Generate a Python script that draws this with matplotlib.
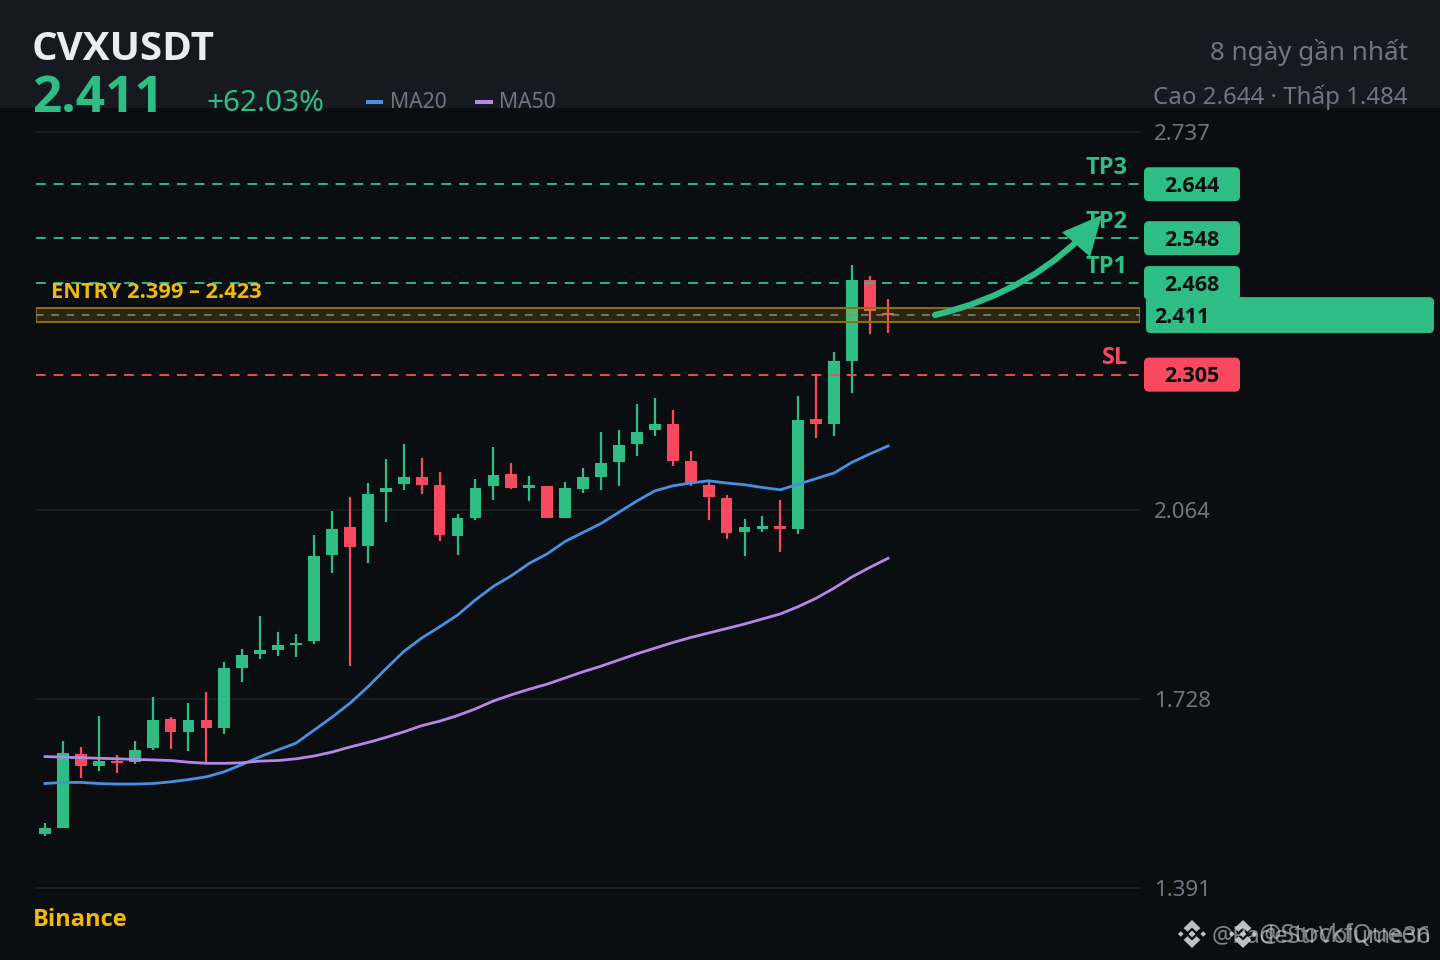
import matplotlib
matplotlib.use("Agg")
import matplotlib.pyplot as plt
from matplotlib.patches import FancyBboxPatch, FancyArrowPatch, Polygon, Rectangle

plt.rcParams['font.family'] = ['Noto Sans', 'DejaVu Sans']
BOLD = dict(family=['Open Sans', 'DejaVu Sans'], fontweight='bold')

# ---------- data ----------
opens = [1.488,1.497,1.630,1.609,1.615,1.615,1.640,1.692,1.668,1.690,1.676,1.783,1.808,1.815,1.824,1.830,
         1.984,2.034,2.000,2.096,2.110,2.122,2.109,2.018,2.049,2.106,2.128,2.104,2.107,2.050,2.101,2.122,
         2.150,2.181,2.207,2.217,2.151,2.109,2.085,2.025,2.031,2.034,2.031,2.226,2.217,2.329,2.474,2.415]
highs = [1.506,1.653,1.642,1.697,1.628,1.653,1.731,1.695,1.720,1.740,1.793,1.817,1.875,1.847,1.843,2.020,
         2.062,2.087,2.112,2.155,2.182,2.156,2.131,2.056,2.119,2.177,2.147,2.125,2.107,2.114,2.139,2.203,
         2.206,2.253,2.263,2.242,2.169,2.114,2.090,2.048,2.053,2.081,2.267,2.305,2.345,2.500,2.481,2.439]
lows  = [1.484,1.497,1.587,1.599,1.595,1.611,1.637,1.639,1.635,1.614,1.665,1.758,1.798,1.804,1.803,1.825,
         1.952,1.787,1.969,2.042,2.100,2.093,2.008,1.984,2.046,2.081,2.102,2.080,2.049,2.050,2.094,2.100,
         2.107,2.160,2.196,2.143,2.106,2.046,2.013,1.982,2.025,1.990,2.022,2.193,2.196,2.272,2.377,2.379]
closes= [1.497,1.631,1.608,1.617,1.613,1.636,1.691,1.668,1.690,1.676,1.782,1.805,1.814,1.824,1.828,1.982,
         2.031,1.999,2.093,2.104,2.122,2.109,2.019,2.049,2.104,2.126,2.103,2.107,2.049,2.103,2.122,2.147,
         2.179,2.203,2.217,2.152,2.112,2.088,2.023,2.033,2.034,2.031,2.225,2.218,2.329,2.474,2.418,2.411]
ma20 = [1.577,1.579,1.579,1.577,1.576,1.576,1.577,1.580,1.584,1.589,1.598,1.611,1.625,1.637,1.649,1.672,
        1.695,1.720,1.749,1.781,1.812,1.836,1.856,1.877,1.904,1.928,1.947,1.969,1.986,2.008,2.024,2.040,
        2.060,2.080,2.098,2.107,2.112,2.116,2.112,2.109,2.104,2.100,2.110,2.120,2.130,2.149,2.164,2.178]
ma50 = [1.625,1.624,1.623,1.622,1.621,1.620,1.619,1.618,1.615,1.613,1.613,1.614,1.617,1.618,1.621,1.626,
        1.633,1.642,1.650,1.659,1.669,1.680,1.688,1.698,1.710,1.724,1.735,1.745,1.754,1.765,1.776,1.786,
        1.797,1.808,1.818,1.828,1.837,1.845,1.853,1.861,1.870,1.879,1.892,1.907,1.925,1.945,1.962,1.978]
y_ticks = [2.737, 2.064, 1.728, 1.391]
tp_labels = ['TP3', 'TP2', 'TP1']
tp_levels = [2.644, 2.548, 2.468]
sl_level = 2.305
entry_low, entry_high = 2.399, 2.423
last_price = 2.411

# ---------- styles ----------
BG, HEADER = '#0b0e11', '#161a20'
GREEN, RED, GOLD = '#2ebd85', '#f84960', '#f0b90b'
BLUE, PURPLE = '#4a90e2', '#b388e8'
GRAY, GRID = '#6f7682', '#191d22'
W, H = 1440, 960
PX_PER_UNIT = (888 - 132) / (2.737 - 1.391)
STEP = (888 - 45) / 47

def ypx(p):
    return 132 + (2.737 - p) * PX_PER_UNIT

fig = plt.figure(figsize=(14.4, 9.6), dpi=100, facecolor=BG)
fig.add_artist(Rectangle((0, 1 - 108 / H), 1, 108 / H, transform=fig.transFigure,
                         facecolor=HEADER, edgecolor='none', zorder=-5))

# price axes occupying x 36..1140 and y 108..900 px
AX_L, AX_R, AX_T, AX_B = 36, 1140, 108, 900
ax = fig.add_axes([AX_L / W, 1 - AX_B / H, (AX_R - AX_L) / W, (AX_B - AX_T) / H])
ax.patch.set_alpha(0)
ax.set_xlim((AX_L - 45) / STEP, (AX_R - 45) / STEP)
ax.set_ylim(2.737 - (AX_B - 132) / PX_PER_UNIT, 2.737 + (132 - AX_T) / PX_PER_UNIT)
for s in ax.spines.values():
    s.set_visible(False)
ax.set_xticks([])
ax.set_yticks(y_ticks)
ax.set_yticklabels([f'{v:.3f}' for v in y_ticks])
ax.yaxis.tick_right()
ax.tick_params(axis='y', length=0, pad=9.8, labelsize=16, labelcolor=GRAY)
ax.grid(axis='y', color=GRID, lw=1.4, zorder=0)
ax.set_axisbelow(True)

# candles
for i, (o, h, l, c) in enumerate(zip(opens, highs, lows, closes)):
    col = GREEN if c >= o else RED
    ax.plot([i, i], [l, h], color=col, lw=1.6, solid_capstyle='butt', zorder=2)
    top, bot = max(o, c), min(o, c)
    ax.bar(i, max(top - bot, 2.2 / PX_PER_UNIT), bottom=bot, width=11.8 / STEP, color=col,
           edgecolor='none', zorder=3)

xs = list(range(len(ma20)))
ax.plot(xs, ma20, color=BLUE, lw=2.0, zorder=4)
ax.plot(xs, ma50, color=PURPLE, lw=2.0, zorder=4)

# levels
for lv in tp_levels:
    ax.axhline(lv, color=GREEN, lw=1.35, dashes=(5.2, 4.2), zorder=5)
ax.axhline(sl_level, color=RED, lw=1.35, dashes=(5.2, 4.2), zorder=5)
ax.axhspan(entry_low, entry_high, facecolor=GOLD, alpha=0.14, edgecolor='none', zorder=5)
ax.axhspan(entry_low, entry_high, facecolor='none', edgecolor='#8f6f10', lw=1.4, zorder=5)
ax.axhline(last_price, color='#8a8a84', lw=1.1, dashes=(5, 5), zorder=5)

# overlay in pixel coordinates for labels
ov = fig.add_axes([0, 0, 1, 1])
ov.set_xlim(0, W); ov.set_ylim(H, 0); ov.axis('off'); ov.patch.set_alpha(0)

def tag(x0, x1, yc, h, col, z=6):
    ov.add_patch(FancyBboxPatch((x0 + 4, yc - h / 2 + 4), x1 - x0 - 8, h - 8,
                                boxstyle='round,pad=4,rounding_size=5', facecolor=col,
                                edgecolor='none', zorder=z))

for lab, lv in zip(tp_labels, tp_levels):
    y = ypx(lv)
    tag(1144, 1240, y, 34, GREEN)
    ov.text(1192, y + 2.2, f'{lv:.3f}', ha='center', va='center', fontsize=15.5, color=BG, zorder=7, **BOLD)
    ov.text(1128, y - 16.5, lab, ha='right', va='center', fontsize=17, color=GREEN, zorder=5, **BOLD)
y = ypx(sl_level)
tag(1144, 1240, y, 34, RED)
ov.text(1192, y + 2.2, f'{sl_level:.3f}', ha='center', va='center', fontsize=15.5, color=BG, zorder=7, **BOLD)
ov.text(1128, y - 16.5, 'SL', ha='right', va='center', fontsize=17, color=RED, zorder=5, **BOLD)
y = ypx(last_price)
tag(1146, 1434, y, 36, GREEN, z=8)
ov.text(1154, y + 2.2, f'{last_price:.3f}', ha='left', va='center', fontsize=15.5, color=BG, zorder=9, **BOLD)

ov.text(51, 293, f'ENTRY {entry_low:.3f} – {entry_high:.3f}', ha='left', va='center', fontsize=15.7,
        color=GOLD, zorder=7, **BOLD)

# arrow
ov.add_patch(FancyArrowPatch((935, 315), (1102, 215), connectionstyle='arc3,rad=0.16',
                             arrowstyle='-|>,head_length=1.05,head_width=0.5', mutation_scale=20,
                             lw=4.4, color=GREEN, shrinkA=0, shrinkB=0, capstyle='round',
                             joinstyle='miter', zorder=10))

# header
ov.text(32, 60, 'CVXUSDT', ha='left', va='baseline', fontsize=29, color='#eaecef', **BOLD)
ov.text(32, 112, f'{last_price:.3f}', ha='left', va='baseline', fontsize=37, color=GREEN, **BOLD)
ov.text(206, 111, '+62.03%', ha='left', va='baseline', fontsize=21.5, color=GREEN)
ov.plot([366, 383], [101.5, 101.5], color=BLUE, lw=2.9, solid_capstyle='butt')
ov.text(389.5, 108, 'MA20', ha='left', va='baseline', fontsize=15.2, color=GRAY)
ov.plot([475, 493], [101.5, 101.5], color=PURPLE, lw=2.9, solid_capstyle='butt')
ov.text(499, 108, 'MA50', ha='left', va='baseline', fontsize=15.2, color=GRAY)
ov.text(1408, 60, '8 ngày gần nhất', ha='right', va='baseline', fontsize=18.7, color=GRAY)
ov.text(1408, 104.5, 'Cao 2.644 · Thấp 1.484', ha='right', va='baseline', fontsize=17.3, color=GRAY)
ov.text(33, 926, 'Binance', ha='left', va='baseline', fontsize=17, color=GOLD, **BOLD)

# watermarks (two overlapped)
def logo(cx, cy, s, col, alpha):
    d = [[(0, -0.25), (0.25, 0), (0, 0.25), (-0.25, 0)]]
    for dx in (-0.8, 0.8):
        d.append([(dx, -0.2), (dx + 0.2, 0), (dx, 0.2), (dx - 0.2, 0)])
    for sg in (-1, 1):
        d.append([(0, sg), (0.6, sg * 0.42), (0.32, sg * 0.16), (0, sg * 0.46), (-0.32, sg * 0.16), (-0.6, sg * 0.42)])
    for poly in d:
        ov.add_patch(Polygon([(cx + x * s, cy + y * s) for x, y in poly], closed=True,
                             facecolor=col, edgecolor='none', alpha=alpha, zorder=11))

WM = '#d0d3d8'
logo(1192, 934, 14, WM, 0.9)
logo(1243, 934, 14, WM, 0.9)
ov.text(1431, 942, '@PadeStrVolume36', ha='right', va='baseline', fontsize=17, color=WM, alpha=0.6, zorder=11)
ov.text(1431, 942, '@StockfQueen', ha='right', va='baseline', fontsize=18, color=WM, alpha=0.6, zorder=11)

fig.savefig('out.png', dpi=100, facecolor=BG)
